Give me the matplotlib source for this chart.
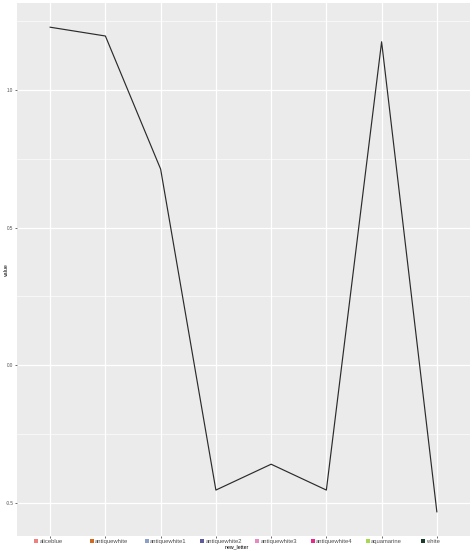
import numpy as np
import matplotlib
matplotlib.use('Agg')
import matplotlib.pyplot as plt
from matplotlib.transforms import blended_transform_factory

plt.rcParams['font.family'] = ['Liberation Sans', 'DejaVu Sans']

# data
new_letter = ['aliceblue', 'antiquewhite', 'antiquewhite1', 'antiquewhite2',
              'antiquewhite3', 'antiquewhite4', 'aquamarine', 'white']
value = [1.229, 1.197, 0.713, -0.454, -0.360, -0.454, 1.176, -0.533]
key_colors = ['#F08080', '#D2691E', '#8DA0CB', '#5E5A9E',
              '#E78AC3', '#E7298A', '#A6D854', '#1B3B2B']
y_ticks = [-0.5, 0.0, 0.5, 1.0]
y_labels = ['-0.5', '0.0', '0.5', '1.0']

W, H = 474, 552
fig = plt.figure(figsize=(W / 100, H / 100), dpi=100)
left, right, top, bottom = 17, 470, 3, 536
ax = fig.add_axes([left / W, (H - bottom) / H, (right - left) / W, (bottom - top) / H])
ax.set_facecolor('#EBEBEB')
for s in ax.spines.values():
    s.set_visible(False)

x = np.arange(len(new_letter))
ax.plot(x, value, color='#2B2B2B', lw=0.85, zorder=3)

ax.set_xlim(-0.6, len(new_letter) - 0.4)
ax.set_ylim(-0.621, 1.317)
ax.set_xticks(x)
ax.set_xticklabels([])
ax.set_yticks(y_ticks)
ax.set_yticklabels(y_labels)
ax.set_yticks([-0.25, 0.25, 0.75, 1.25], minor=True)
ax.grid(True, which='major', color='white', lw=0.9)
ax.grid(True, which='minor', axis='y', color='white', lw=0.45)
ax.set_axisbelow(True)
ax.tick_params(axis='both', which='major', length=1.6, width=0.5, color='#333333',
               labelsize=3.3, labelcolor='#4D4D4D', pad=1)
ax.tick_params(axis='y', which='minor', length=0)

fig.text(6 / W, 1 - 270 / H, 'value', rotation=90, fontsize=3.8,
         ha='center', va='center')
fig.text(237 / W, 1 - 547 / H, 'new_letter', fontsize=3.8,
         ha='center', va='center')

# legend row along the bottom, one key per category
trans = blended_transform_factory(ax.transData, fig.transFigure)
ly = 1 - 541 / H
for i, (name, c) in enumerate(zip(new_letter, key_colors)):
    ax.scatter([i - 0.25], [ly], marker='s', s=8, color=c, lw=0,
               transform=trans, clip_on=False)
    ax.text(i - 0.19, ly, name, fontsize=4.2, color='#4D4D4D',
            ha='left', va='center_baseline', transform=trans, clip_on=False)

fig.savefig('out.png', dpi=100, facecolor='white')
